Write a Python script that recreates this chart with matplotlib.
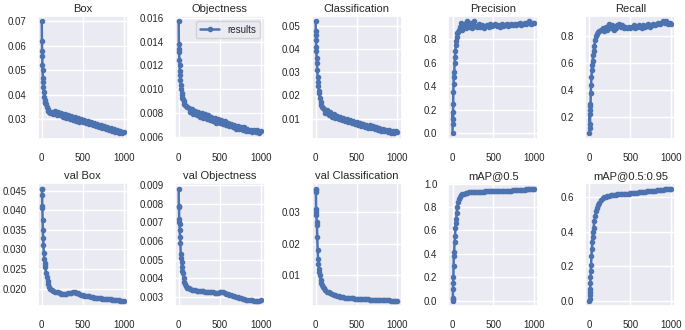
import matplotlib
matplotlib.use("Agg")
import matplotlib.pyplot as plt
from matplotlib.ticker import MultipleLocator
import seaborn as sns

sns.set_theme(style="darkgrid")
plt.rcParams["font.family"] = ["Liberation Sans", "DejaVu Sans"]

epochs = [0, 2, 4, 6, 8, 10, 13, 16, 20, 25, 30, 35, 40, 45, 50, 60, 70, 80, 90, 100,
          120, 140, 160, 180, 200, 220, 240, 260, 280, 300, 320, 340, 360, 380, 400,
          420, 440, 460, 480, 500, 520, 540, 560, 580, 600, 620, 640, 660, 680, 700,
          720, 740, 760, 780, 800, 820, 840, 860, 880, 900, 920, 940, 960, 980, 1000]

box = [0.070, 0.062, 0.058, 0.056, 0.052, 0.050, 0.047, 0.045, 0.043, 0.041, 0.039, 0.038, 0.037, 0.0365, 0.036,
       0.035, 0.034, 0.0335, 0.033, 0.0325,
       0.0330, 0.0322, 0.0335, 0.0318, 0.0328, 0.0315, 0.0325, 0.0310, 0.0320, 0.0305, 0.0316, 0.0300, 0.0312,
       0.0298, 0.0308, 0.0294, 0.0303, 0.0290, 0.0300, 0.0287, 0.0296, 0.0284, 0.0293, 0.0280, 0.0290, 0.0276,
       0.0285, 0.0272, 0.0280, 0.0268, 0.0276, 0.0264, 0.0272, 0.0260, 0.0268, 0.0256, 0.0263, 0.0252, 0.0259,
       0.0248, 0.0256, 0.0245, 0.0252, 0.0242, 0.0248]

objectness = [0.0157, 0.0138, 0.0134, 0.0131, 0.0125, 0.0120, 0.0115, 0.0112, 0.0108, 0.0104, 0.0100, 0.0097,
              0.0095, 0.0093, 0.0092, 0.0090, 0.0088, 0.0087, 0.0086, 0.0085,
              0.0084, 0.0081, 0.0083, 0.0079, 0.0082, 0.0078, 0.0081, 0.0077, 0.0080, 0.0076, 0.0079, 0.0075,
              0.0078, 0.0074, 0.0077, 0.0073, 0.0076, 0.0072, 0.0075, 0.0072, 0.0074, 0.0071, 0.0073, 0.0070,
              0.0072, 0.0069, 0.0071, 0.0068, 0.0070, 0.0067, 0.0069, 0.0067, 0.0068, 0.0066, 0.0068, 0.0065,
              0.0067, 0.0065, 0.0066, 0.0064, 0.0066, 0.0064, 0.0066, 0.0063, 0.0065]

classification = [0.052, 0.048, 0.046, 0.044, 0.041, 0.039, 0.036, 0.034, 0.031, 0.028, 0.026, 0.024, 0.022,
                  0.021, 0.019, 0.017, 0.016, 0.015, 0.0145, 0.014,
                  0.0125, 0.0135, 0.0115, 0.0128, 0.0108, 0.0120, 0.0102, 0.0113, 0.0097, 0.0108, 0.0092, 0.0102,
                  0.0088, 0.0097, 0.0085, 0.0094, 0.0080, 0.0090, 0.0076, 0.0086, 0.0073, 0.0082, 0.0069, 0.0078,
                  0.0065, 0.0074, 0.0061, 0.0070, 0.0058, 0.0066, 0.0055, 0.0062, 0.0051, 0.0058, 0.0048, 0.0055,
                  0.0045, 0.0052, 0.0042, 0.0049, 0.0038, 0.0046, 0.0036, 0.0045, 0.0040]

precision = [0.0, 0.08, 0.18, 0.12, 0.25, 0.35, 0.42, 0.52, 0.48, 0.60, 0.65, 0.70, 0.75, 0.78, 0.82, 0.85, 0.86,
             0.88, 0.90, 0.94,
             0.88, 0.93, 0.89, 0.95, 0.90, 0.94, 0.89, 0.95, 0.91, 0.90, 0.93, 0.90, 0.92, 0.89, 0.91, 0.92, 0.90,
             0.93, 0.91, 0.92, 0.93, 0.91, 0.92, 0.90, 0.93, 0.91, 0.92, 0.93, 0.91, 0.92, 0.93, 0.92, 0.93, 0.92,
             0.93, 0.94, 0.92, 0.93, 0.94, 0.93, 0.94, 0.95, 0.93, 0.94, 0.94]

recall = [0.08, 0.15, 0.22, 0.12, 0.25, 0.30, 0.28, 0.38, 0.44, 0.50, 0.55, 0.59, 0.62, 0.66, 0.69, 0.73, 0.77,
          0.80, 0.82, 0.83,
          0.84, 0.85, 0.86, 0.84, 0.87, 0.85, 0.89, 0.86, 0.88, 0.85, 0.86, 0.88, 0.89, 0.87, 0.88, 0.86, 0.87,
          0.86, 0.87, 0.86, 0.87, 0.88, 0.86, 0.87, 0.88, 0.87, 0.86, 0.88, 0.87, 0.88, 0.89, 0.87, 0.88, 0.89,
          0.88, 0.89, 0.90, 0.89, 0.90, 0.91, 0.90, 0.91, 0.89, 0.90, 0.89]

val_box = [0.0455, 0.0455, 0.044, 0.041, 0.0405, 0.0375, 0.035, 0.033, 0.031, 0.029, 0.0275, 0.0265, 0.026,
           0.0255, 0.024, 0.023, 0.022, 0.0212, 0.0205, 0.020,
           0.0197, 0.0193, 0.0192, 0.0191, 0.0190, 0.0189, 0.0187, 0.0186, 0.0186, 0.0187, 0.0188, 0.0189,
           0.0189, 0.0190, 0.0190, 0.0189, 0.0188, 0.0186, 0.0184, 0.0183, 0.0182, 0.0182, 0.0181, 0.0180,
           0.0179, 0.0178, 0.0177, 0.0177, 0.0176, 0.0175, 0.0175, 0.0174, 0.0174, 0.0173, 0.0173, 0.0172,
           0.0172, 0.0171, 0.0171, 0.0170, 0.0170, 0.0170, 0.0169, 0.0169, 0.0169]

val_objectness = [0.0088, 0.0078, 0.0079, 0.0072, 0.0070, 0.0069, 0.0066, 0.0062, 0.0059, 0.0053, 0.0051,
                  0.0049, 0.0046, 0.0044, 0.0043, 0.0040, 0.0038, 0.0037, 0.0036, 0.0035,
                  0.00350, 0.00345, 0.00340, 0.00338, 0.00336, 0.00334, 0.00333, 0.00332, 0.00331, 0.00330,
                  0.00329, 0.00328, 0.00327, 0.00326, 0.00326, 0.00325, 0.00324, 0.00324, 0.00324, 0.00325,
                  0.00326, 0.00325, 0.00322, 0.00318, 0.00314, 0.00311, 0.00309, 0.00308, 0.00306, 0.00303,
                  0.00300, 0.00297, 0.00294, 0.00291, 0.00289, 0.00287, 0.00285, 0.00284, 0.00283, 0.00282,
                  0.00281, 0.00281, 0.00281, 0.00281, 0.00282]

val_classification = [0.037, 0.0375, 0.0365, 0.031, 0.030, 0.029, 0.027, 0.026, 0.022, 0.018, 0.015, 0.0135,
                      0.012, 0.011, 0.010, 0.0085, 0.0075, 0.0068, 0.0062, 0.0058,
                      0.0052, 0.0048, 0.0045, 0.0042, 0.0040, 0.0038, 0.0036, 0.0034, 0.0033, 0.0032, 0.0031,
                      0.0030, 0.0029, 0.0028, 0.0027, 0.0027, 0.0026, 0.0026, 0.0025, 0.0025, 0.0025, 0.0024,
                      0.0024, 0.0024, 0.0023, 0.0023, 0.0023, 0.0022, 0.0022, 0.0022, 0.0022, 0.0021, 0.0021,
                      0.0021, 0.0021, 0.0020, 0.0020, 0.0020, 0.0020, 0.0020, 0.0019, 0.0019, 0.0019, 0.0019,
                      0.0019]

map50 = [0.0, 0.01, 0.02, 0.10, 0.15, 0.20, 0.30, 0.38, 0.42, 0.50, 0.55, 0.62, 0.66, 0.70, 0.75, 0.80, 0.84,
         0.87, 0.89, 0.90,
         0.91, 0.915, 0.92, 0.922, 0.925, 0.927, 0.928, 0.929, 0.930, 0.930, 0.931, 0.931, 0.932, 0.932, 0.933,
         0.933, 0.934, 0.934, 0.935, 0.935, 0.936, 0.936, 0.937, 0.937, 0.938, 0.938, 0.939, 0.939, 0.940, 0.940,
         0.941, 0.942, 0.943, 0.944, 0.945, 0.946, 0.947, 0.948, 0.949, 0.950, 0.951, 0.952, 0.954, 0.956, 0.955]

map50_95 = [0.0, 0.01, 0.03, 0.05, 0.07, 0.10, 0.14, 0.17, 0.21, 0.26, 0.30, 0.34, 0.37, 0.40, 0.42, 0.46, 0.49,
            0.52, 0.54, 0.555,
            0.57, 0.585, 0.595, 0.600, 0.605, 0.607, 0.610, 0.612, 0.614, 0.615, 0.616, 0.617, 0.618, 0.619,
            0.620, 0.621, 0.621, 0.622, 0.622, 0.623, 0.624, 0.625, 0.627, 0.628, 0.629, 0.630, 0.631, 0.632,
            0.634, 0.635, 0.636, 0.637, 0.638, 0.639, 0.640, 0.641, 0.642, 0.643, 0.644, 0.645, 0.646, 0.647,
            0.648, 0.649, 0.650]

titles = ["Box", "Objectness", "Classification", "Precision", "Recall",
          "val Box", "val Objectness", "val Classification", "mAP@0.5", "mAP@0.5:0.95"]
series = [box, objectness, classification, precision, recall,
          val_box, val_objectness, val_classification, map50, map50_95]
ystep = [0.01, 0.002, 0.01, 0.2, 0.2, 0.005, 0.001, 0.01, 0.2, 0.2]

fig, axes = plt.subplots(2, 5, figsize=(6.85, 3.3), dpi=100)
axes = axes.ravel()
for i, ax in enumerate(axes):
    ax.plot(epochs, series[i], marker=".", label="results", linewidth=1.8, markersize=6, color="#4c72b0")
    ax.set_title(titles[i], fontsize=8, pad=3)
    ax.set_xticks([0, 500, 1000])
    ax.yaxis.set_major_locator(MultipleLocator(ystep[i]))
    ax.tick_params(labelsize=7, pad=2)
    ax.tick_params(axis="x", pad=4)
    if i == 1:
        ax.legend(fontsize=7, loc="upper right")

fig.subplots_adjust(left=0.055, right=0.986, top=0.952, bottom=0.072, wspace=0.52, hspace=0.36)
fig.savefig("out.png")
